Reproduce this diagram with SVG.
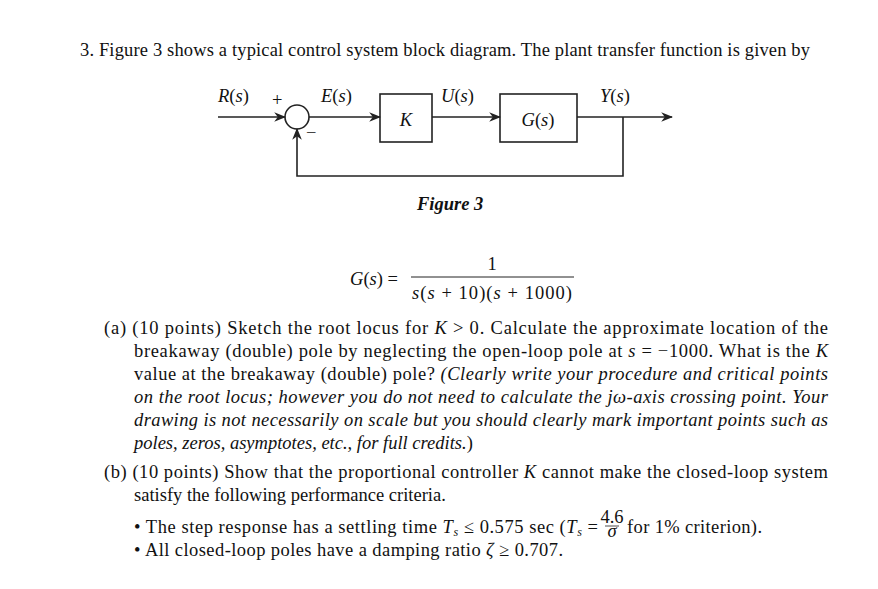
<svg xmlns="http://www.w3.org/2000/svg" width="878" height="589" viewBox="0 0 878 589">
<style>
text{font-family:"Liberation Serif","DejaVu Serif",serif;fill:#111;font-size:18.5px}
.i{font-style:italic}
.b{fill:none;stroke:#222;stroke-width:1.6}
.l{fill:none;stroke:#222;stroke-width:1.6}
</style>
<defs><marker id="a" viewBox="0 0 10 10" refX="9" refY="5" markerWidth="12" markerHeight="12" markerUnits="userSpaceOnUse" orient="auto"><path d="M0,1 L10,5 L0,9 L3,5z" fill="#222"/></marker></defs>
<rect width="878" height="589" fill="#fff"/>
<text x="80" y="56" textLength="730" lengthAdjust="spacing">3. Figure 3 shows a typical control system block diagram. The plant transfer function is given by</text>
<g id="sum"><circle cx="297" cy="117" r="12" class="b"/></g>
<g id="K"><rect x="380" y="94" width="52" height="48" class="b"/><text x="406" y="126" class="i" text-anchor="middle" font-size="21">K</text></g>
<g id="G"><rect x="500" y="94" width="77" height="48" class="b"/><text x="538" y="126" text-anchor="middle" font-size="21"><tspan class="i">G</tspan>(<tspan class="i">s</tspan>)</text></g>
<g id="connectors">
<path d="M218,117 H285" class="l" marker-end="url(#a)"/>
<path d="M309,117 H380" class="l" marker-end="url(#a)"/>
<path d="M432,117 H500" class="l" marker-end="url(#a)"/>
<path d="M577,117 H672" class="l" marker-end="url(#a)"/>
<path d="M623,117 V176 H297 V129" class="l" marker-end="url(#a)"/>
</g>
<text x="218" y="102" font-size="21"><tspan class="i">R</tspan>(<tspan class="i">s</tspan>)</text>
<text x="272" y="106" font-size="15">+</text>
<text x="306" y="139" font-size="15">−</text>
<text x="321" y="102" font-size="21"><tspan class="i">E</tspan>(<tspan class="i">s</tspan>)</text>
<text x="441" y="102" font-size="21"><tspan class="i">U</tspan>(<tspan class="i">s</tspan>)</text>
<text x="600" y="102" font-size="21"><tspan class="i">Y</tspan>(<tspan class="i">s</tspan>)</text>
<text x="417" y="210" font-weight="bold" class="i" font-size="16">Figure 3</text>
<text x="350" y="285" font-size="19"><tspan class="i">G</tspan>(<tspan class="i">s</tspan>) =</text>
<line x1="411" y1="277" x2="574" y2="277" stroke="#222" stroke-width="1"/>
<text x="492" y="270" text-anchor="middle" font-size="19">1</text>
<text x="492" y="299" text-anchor="middle" font-size="19" textLength="160" lengthAdjust="spacing"><tspan class="i">s</tspan>(<tspan class="i">s</tspan> + 10)(<tspan class="i">s</tspan> + 1000)</text>
<text x="104" y="334" textLength="724" lengthAdjust="spacing">(a) (10 points) Sketch the root locus for <tspan class="i">K</tspan> &gt; 0. Calculate the approximate location of the</text>
<text x="134" y="357" textLength="694" lengthAdjust="spacing">breakaway (double) pole by neglecting the open-loop pole at <tspan class="i">s</tspan> = −1000. What is the <tspan class="i">K</tspan></text>
<text x="134" y="380" textLength="694" lengthAdjust="spacing">value at the breakaway (double) pole? <tspan class="i">(Clearly write your procedure and critical points</tspan></text>
<text x="134" y="403" class="i" textLength="694" lengthAdjust="spacing">on the root locus; however you do not need to calculate the jω-axis crossing point. Your</text>
<text x="134" y="426" class="i" textLength="694" lengthAdjust="spacing">drawing is not necessarily on scale but you should clearly mark important points such as</text>
<text x="134" y="449"><tspan class="i">poles, zeros, asymptotes, etc., for full credits.</tspan>)</text>
<text x="104" y="478" textLength="724" lengthAdjust="spacing">(b) (10 points) Show that the proportional controller <tspan class="i">K</tspan> cannot make the closed-loop system</text>
<text x="134" y="501">satisfy the following performance criteria.</text>
<text x="134" y="533" textLength="464" lengthAdjust="spacing">• The step response has a settling time <tspan class="i">T<tspan font-size="12" dy="3">s</tspan></tspan><tspan dy="-3"> ≤ 0.575 sec (</tspan><tspan class="i">T<tspan font-size="12" dy="3">s</tspan></tspan><tspan dy="-3"> =</tspan></text>
<text x="612" y="523" font-size="9" text-anchor="middle">4.6</text>
<line x1="605" y1="526" x2="619" y2="526" stroke="#222" stroke-width="0.8"/>
<text x="612" y="537" font-size="10" text-anchor="middle" class="i">σ</text>
<text x="627" y="533" textLength="135" lengthAdjust="spacing">for 1% criterion).</text>
<text x="134" y="556" textLength="429" lengthAdjust="spacing">• All closed-loop poles have a damping ratio <tspan class="i">ζ</tspan> ≥ 0.707.</text>
</svg>
